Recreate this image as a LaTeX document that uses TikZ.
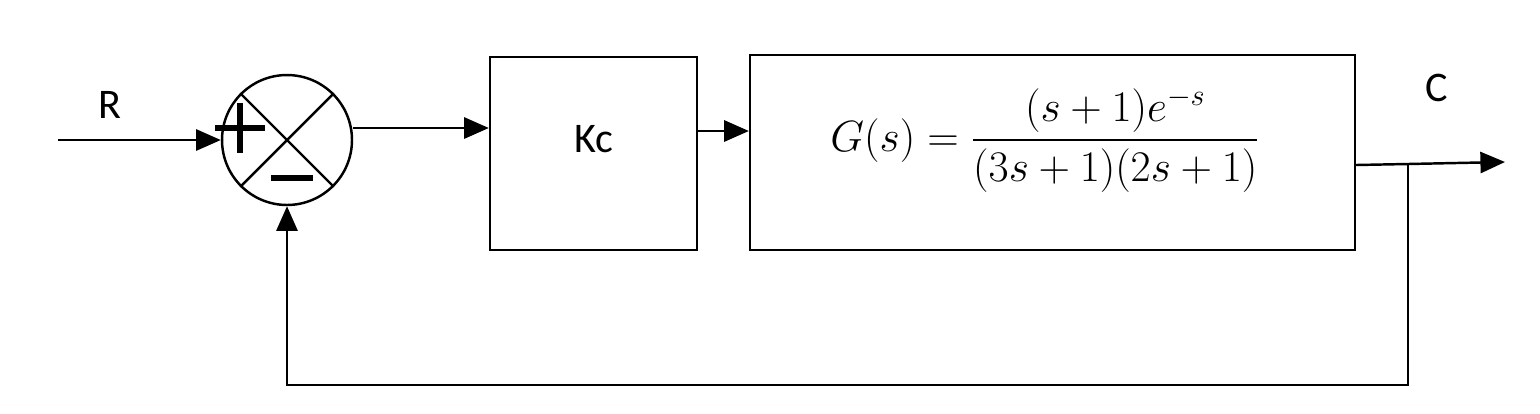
\documentclass[tikz,border=0pt]{standalone}
\usepackage{amsmath}
\usepackage{fontspec}
\setmainfont{Carlito}
\usetikzlibrary{arrows.meta}
\begin{document}
\begin{tikzpicture}[x=0.02cm,y=-0.02cm,
  blk/.style={draw,line width=1.4pt,inner sep=0},
  conn/.style={line width=1.4pt},
  arr/.style={conn,-{Triangle[length=14pt,width=12pt]}},
  sgn/.style={line width=3.5pt},
  lbl/.style={font=\fontsize{24}{28}\selectfont}]
\useasboundingbox (0,0) rectangle (1540,413);
\node[blk,circle,minimum size=2.6cm] (sum) at (287,140) {};
\draw[conn] (sum.north east) -- (sum.south west);
\draw[conn] (sum.north west) -- (sum.south east);
\coordinate (pc) at (240,128);
\draw[sgn] ([xshift=-14]pc) -- ([xshift=14]pc) ([yshift=-14]pc) -- ([yshift=14]pc);
\coordinate (mc) at (292,178);
\draw[sgn] ([xshift=-12]mc) -- ([xshift=12]mc);
\coordinate (rin) at (58,140);
\node[lbl] (R) at (110,105) {R};
\draw[arr] (rin) -- (sum.west);
\node[blk,minimum width=4.14cm,minimum height=3.86cm] (kc) at (593.5,153.5) {};
\node[lbl] (kct) at (594,139) {Kc};
\draw[arr] (sum.east |- 0,128) -- (kc.west |- 0,128);
\node[blk,minimum width=12.1cm,minimum height=3.9cm] (g) at (1052.5,152.5) {};
\node[font=\fontsize{23}{28}\selectfont] (gt) at (1045,140) {$G(s)=\dfrac{(s+1)e^{-s}}{(3s+1)(2s+1)}$};
\draw[arr] (kc.east |- 0,131) -- (g.west |- 0,131);
\coordinate (tap) at (1408,164);
\coordinate (out) at (1505,162);
\node[lbl] (C) at (1437,88) {C};
\draw[arr] (g.east |- 0,165) -- (tap) -- (out);
\coordinate (bl) at (287,385);
\draw[arr] (tap) -- (1408,385) -- (bl) -- (sum.south);
\end{tikzpicture}
\end{document}
